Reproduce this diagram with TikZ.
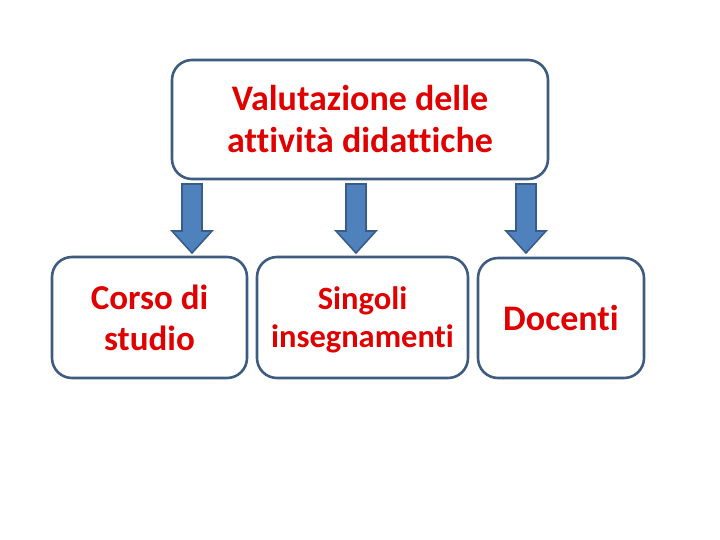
\documentclass[tikz,border=0pt]{standalone}
\usepackage{fontspec}
\setmainfont{Carlito}[Ligatures=NoCommon]
\usetikzlibrary{calc}
\definecolor{boxline}{HTML}{3E5C80}
\definecolor{arrfill}{HTML}{4F81BD}
\definecolor{arrline}{HTML}{385D8A}
\definecolor{txtred}{HTML}{E00000}
\tikzset{
  roundbox/.style={draw=boxline, line width=2.6pt, rounded corners=20pt, fill=white,
    text=txtred, align=center, inner sep=0pt, font=\bfseries},
  blockarr/.style={draw=arrline, fill=arrfill, line width=1.6pt, line join=miter}
}
\newcommand{\blockarrow}[2]{%
  \path[blockarr] let \p1=(#1), \p2=(#2) in
    (\x1-10pt,\y1) -- (\x1+10pt,\y1) -- (\x1+10pt,\y2+22pt) -- (\x1+20pt,\y2+22pt)
    -- (\x1,\y2) -- (\x1-20pt,\y2+22pt) -- (\x1-10pt,\y2+22pt) -- cycle;}
\begin{document}
\begin{tikzpicture}[x=1pt,y=-1pt]
\useasboundingbox (0,0) rectangle (720,540);
\node[roundbox, minimum width=376pt, minimum height=119pt,
  font=\bfseries\fontsize{36}{42}\selectfont] (top) at (360,119.5)
  {Valutazione delle\\attività didattiche};
\node[roundbox, minimum width=195pt, minimum height=121pt,
  font=\bfseries\fontsize{35}{41}\selectfont] (b1) at (149.5,317.5)
  {Corso di\\studio};
\node[roundbox, minimum width=211pt, minimum height=121pt,
  font=\bfseries\fontsize{32.5}{38}\selectfont, text depth=0pt] (b2) at (362.5,317.5)
  {Singoli\\insegnamenti};
\node[roundbox, minimum width=166pt, minimum height=120pt,
  font=\bfseries\fontsize{36}{41}\selectfont] (b3) at (561,318)
  {Docenti};
\coordinate (a1s) at (192,184);
\coordinate (a1e) at (192,253);
\coordinate (a2s) at (356,184);
\coordinate (a2e) at (356,253);
\coordinate (a3s) at (526,184);
\coordinate (a3e) at (526,253);
\blockarrow{a1s}{a1e}
\blockarrow{a2s}{a2e}
\blockarrow{a3s}{a3e}
\end{tikzpicture}
\end{document}
